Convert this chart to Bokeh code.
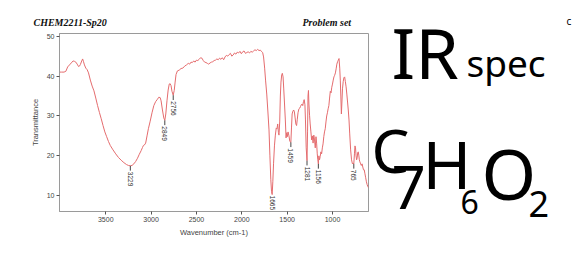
import math
from bokeh.plotting import figure
from bokeh.models import Range1d, FixedTicker
from bokeh.layouts import row, column
from bokeh.core.properties import value
from bokeh.embed import file_html
from bokeh.resources import INLINE

# ---- data ----
wavenumber = [4010, 3990, 3960, 3940, 3920, 3900, 3880, 3860, 3845, 3830, 3815, 3800, 3790, 3780, 3765, 3755,
              3745, 3735, 3720, 3705, 3690, 3670, 3650, 3630, 3610, 3590, 3570, 3550, 3530, 3510, 3490, 3470,
              3450, 3420, 3390, 3360, 3330, 3300, 3270, 3250, 3229, 3210, 3190, 3170, 3150, 3130, 3110, 3095,
              3085, 3075, 3060, 3045, 3030, 3010, 2990, 2970, 2950, 2930, 2915, 2900, 2890, 2875, 2860, 2849,
              2838, 2825, 2812, 2800, 2790, 2780, 2770, 2756, 2745, 2735, 2725, 2710, 2690, 2670, 2650, 2630,
              2610, 2590, 2575, 2560, 2545, 2530, 2515, 2500, 2485, 2470, 2455, 2440, 2425, 2410, 2395, 2380,
              2365, 2350, 2335, 2320, 2305, 2290, 2275, 2260, 2245, 2230, 2215, 2200, 2185, 2170, 2155, 2140,
              2125, 2110, 2095, 2080, 2065, 2050, 2035, 2020, 2005, 1990, 1975, 1960, 1945, 1930, 1915, 1900,
              1885, 1870, 1855, 1840, 1825, 1810, 1795, 1780, 1770, 1760, 1748, 1738, 1725, 1712, 1700, 1690,
              1680, 1672, 1665, 1658, 1650, 1640, 1630, 1620, 1612, 1604, 1596, 1590, 1582, 1575, 1568, 1560,
              1553, 1545, 1538, 1530, 1520, 1512, 1505, 1498, 1490, 1480, 1470, 1459, 1452, 1445, 1437, 1428,
              1420, 1412, 1404, 1396, 1388, 1380, 1370, 1360, 1352, 1344, 1336, 1328, 1320, 1312, 1304, 1298,
              1290, 1281, 1275, 1270, 1265, 1260, 1253, 1246, 1238, 1230, 1222, 1214, 1206, 1198, 1190, 1182,
              1175, 1168, 1162, 1156, 1150, 1143, 1136, 1128, 1120, 1112, 1104, 1096, 1088, 1080, 1072, 1064,
              1056, 1048, 1040, 1032, 1024, 1016, 1008, 1000, 992, 984, 976, 968, 960, 952, 944, 936,
              928, 920, 914, 908, 902, 896, 890, 882, 874, 866, 858, 850, 842, 834, 826, 818,
              810, 800, 790, 780, 772, 765, 758, 752, 746, 740, 734, 728, 722, 716, 710, 704,
              698, 690, 682, 674, 666, 658, 650, 642, 634, 626, 618, 610, 603]
transmittance = [41.0, 41.0, 41.0, 41.2, 42.3, 42.8, 43.3, 43.8, 43.7, 43.5, 43.0, 42.4, 42.5, 42.9, 43.8, 44.3,
                 43.6, 42.8, 42.0, 41.6, 40.8, 39.0, 37.5, 36.3, 34.5, 32.6, 30.9, 29.3, 27.6, 26.0, 24.8, 23.6,
                 22.6, 21.5, 20.5, 19.6, 18.9, 18.3, 17.8, 17.6, 17.5, 17.6, 18.0, 18.6, 19.4, 20.4, 21.3, 22.1,
                 22.6, 22.7, 23.2, 25.0, 26.8, 28.7, 30.8, 32.6, 33.6, 34.2, 34.7, 34.6, 33.8, 31.5, 29.5, 28.9,
                 30.5, 33.8, 36.5, 38.0, 38.1, 37.6, 36.2, 35.2, 36.4, 38.5, 40.4, 41.3, 41.5, 41.9, 42.0, 42.5,
                 42.8, 43.2, 43.0, 43.5, 43.4, 43.8, 43.5, 44.0, 43.9, 44.2, 44.6, 44.5, 43.9, 43.5, 43.4, 43.2,
                 43.0, 43.3, 43.5, 43.6, 43.9, 44.0, 44.3, 44.1, 44.5, 44.2, 44.6, 44.1, 44.8, 45.2, 45.0, 45.4,
                 45.7, 45.0, 45.3, 45.8, 45.5, 46.0, 45.8, 46.2, 45.6, 46.1, 46.3, 45.7, 45.9, 46.1, 45.8, 46.2,
                 46.0, 46.3, 46.6, 46.4, 46.7, 46.4, 46.5, 46.1, 45.9, 44.8, 42.0, 39.0, 35.5, 31.0, 26.5, 20.0,
                 14.0, 11.0, 10.3, 13.5, 18.0, 22.5, 25.2, 27.0, 26.8, 28.0, 25.8, 25.2, 28.5, 35.0, 38.5, 40.3,
                 40.7, 39.8, 37.0, 33.5, 29.0, 24.5, 25.8, 24.8, 26.0, 25.0, 23.6, 23.4, 27.0, 30.5, 31.2, 31.5,
                 31.0, 29.5, 28.0, 27.6, 29.2, 30.8, 31.8, 32.0, 32.4, 32.8, 33.0, 32.6, 33.6, 34.1, 32.8, 29.0,
                 22.0, 18.8, 26.0, 35.0, 36.4, 33.0, 30.2, 28.0, 26.0, 24.0, 25.0, 23.2, 25.2, 24.0, 22.0, 24.8,
                 23.2, 20.5, 19.0, 18.0, 20.0, 19.0, 19.8, 21.0, 20.5, 22.0, 23.0, 24.8, 26.0, 26.8, 28.5, 30.0,
                 30.8, 31.8, 32.6, 34.5, 36.2, 35.8, 37.2, 38.0, 39.0, 39.8, 40.2, 40.8, 41.8, 43.0, 43.6, 44.0,
                 44.4, 42.0, 39.0, 35.0, 30.5, 33.5, 36.8, 38.6, 39.6, 39.8, 38.6, 37.3, 35.5, 33.5, 31.5, 29.0,
                 25.5, 21.5, 19.0, 18.0, 18.2, 18.0, 20.5, 22.5, 22.0, 20.0, 19.0, 19.5, 20.8, 21.0, 20.2, 19.0,
                 18.5, 18.0, 17.6, 18.0, 17.2, 16.5, 16.5, 15.5, 14.5, 13.5, 12.8, 12.3, 12.0]

peak_wavenumbers = [3229, 2849, 2756, 1665, 1459, 1281, 1156, 765]
peak_transmittance = [17.5, 28.9, 35.2, 10.3, 23.4, 18.8, 18.0, 18.0]
peak_labels = ["3229", "2849", "2756", "1665", "1459", "1281", "1156", "765"]

x_ticks = [3500, 3000, 2500, 2000, 1500, 1000]
y_ticks = [10, 20, 30, 40, 50]

header_texts = ["CHEM2211-Sp20", "Problem set"]
note_texts = ["IR", "spec", "C", "7", "H", "6", "O", "2", "c"]

W, H = 572, 271
LEFT_W = 370
HEADER_H = 31
BASE_SHIFT = 0.39  # renderer places the alphabetic baseline this many em lower


def no_align(f):
    try:
        f.frame_align = False
    except Exception:
        pass
    return f


def blank_fig(w, h, x0, x1, y0, y1):
    f = figure(width=w, height=h, output_backend="svg", toolbar_location=None,
               x_range=Range1d(x0, x1), y_range=Range1d(y1, y0),
               min_border=0, min_border_left=0, min_border_right=0,
               min_border_top=0, min_border_bottom=0)
    f.axis.visible = False
    f.grid.visible = False
    f.outline_line_color = None
    f.background_fill_color = "white"
    f.border_fill_color = "white"
    return no_align(f)


# ---- header strip ----
hdr = blank_fig(LEFT_W, HEADER_H, 0, LEFT_W, 0, HEADER_H)
hdr.text(x=[33, 302], y=[26 - BASE_SHIFT * 10] * 2, text=header_texts, text_font=value("Liberation Serif"),
         text_font_style="bold italic", text_font_size="10px", text_color="#111111",
         text_align="left", text_baseline="alphabetic")

# ---- spectrum ----
p = figure(width=LEFT_W, height=H - HEADER_H, output_backend="svg", toolbar_location=None,
           x_range=Range1d(4010, 603), y_range=Range1d(6.05, 50.68),
           min_border_left=59, min_border_right=LEFT_W - 368,
           min_border_top=33 - HEADER_H, min_border_bottom=H - 211)
no_align(p)
p.background_fill_color = "white"
p.border_fill_color = "white"
p.outline_line_color = "#9a9a9a"
p.outline_line_width = 1
p.xgrid.visible = False
p.ygrid.visible = False

p.line(wavenumber, transmittance, line_color="#e46c6e", line_width=1)

leader = [1.2, 1.2, 1.2, 0.0, 1.2, 1.2, 1.2, 1.2]
label_gap = [6, 6, 6, 1, 6, 6, 6, 6]
p.segment(x0=peak_wavenumbers, y0=peak_transmittance, x1=peak_wavenumbers,
          y1=[t - d for t, d in zip(peak_transmittance, leader)], line_color="#444444", line_width=1)
p.text(x=peak_wavenumbers, y=peak_transmittance, text=peak_labels, angle=-math.pi / 2,
       y_offset=label_gap, text_align="left", text_baseline="middle",
       text_font_size="6.5px", text_color="#333333", text_font=value("Liberation Sans"))

for ax in (p.xaxis[0], p.yaxis[0]):
    ax.axis_line_color = "#9a9a9a"
    ax.major_tick_line_color = "#555555"
    ax.minor_tick_line_color = None
    ax.major_tick_in = 0
    ax.major_tick_out = 3
    ax.major_label_text_font = "Liberation Sans"
    ax.major_label_text_font_size = "7px"
    ax.major_label_text_color = "#444444"
    ax.axis_label_text_font = "Liberation Sans"
    ax.axis_label_text_font_size = "7.5px"
    ax.axis_label_text_font_style = "normal"
    ax.axis_label_text_color = "#444444"

p.xaxis.ticker = FixedTicker(ticks=x_ticks)
p.yaxis.ticker = FixedTicker(ticks=y_ticks)
p.xaxis.axis_label = "Wavenumber (cm-1)"
p.yaxis.axis_label = "Transmittance"
p.xaxis.major_label_standoff = 2
p.xaxis.axis_label_standoff = 3
p.yaxis.major_label_standoff = 2
p.yaxis.axis_label_standoff = 4

# ---- handwritten notes ----
hand = blank_fig(W - LEFT_W, H, LEFT_W, W, 0, H)
note_x = [391, 466, 371, 391, 422, 460, 481, 528, 566]
note_baseline = [79, 76, 173, 210, 188, 214, 200, 218, 24]
note_px = [70, 37, 60, 60, 66, 32, 70, 36, 10]
hand.text(x=note_x, y=[b - BASE_SHIFT * s for b, s in zip(note_baseline, note_px)], text=note_texts,
          text_font=value("Noto Sans"), text_font_size=[f"{s}px" for s in note_px], text_color="black",
          text_align="left", text_baseline="alphabetic")

layout = row(column(hdr, p), hand)
open("out.html", "w").write(file_html(layout, INLINE))
